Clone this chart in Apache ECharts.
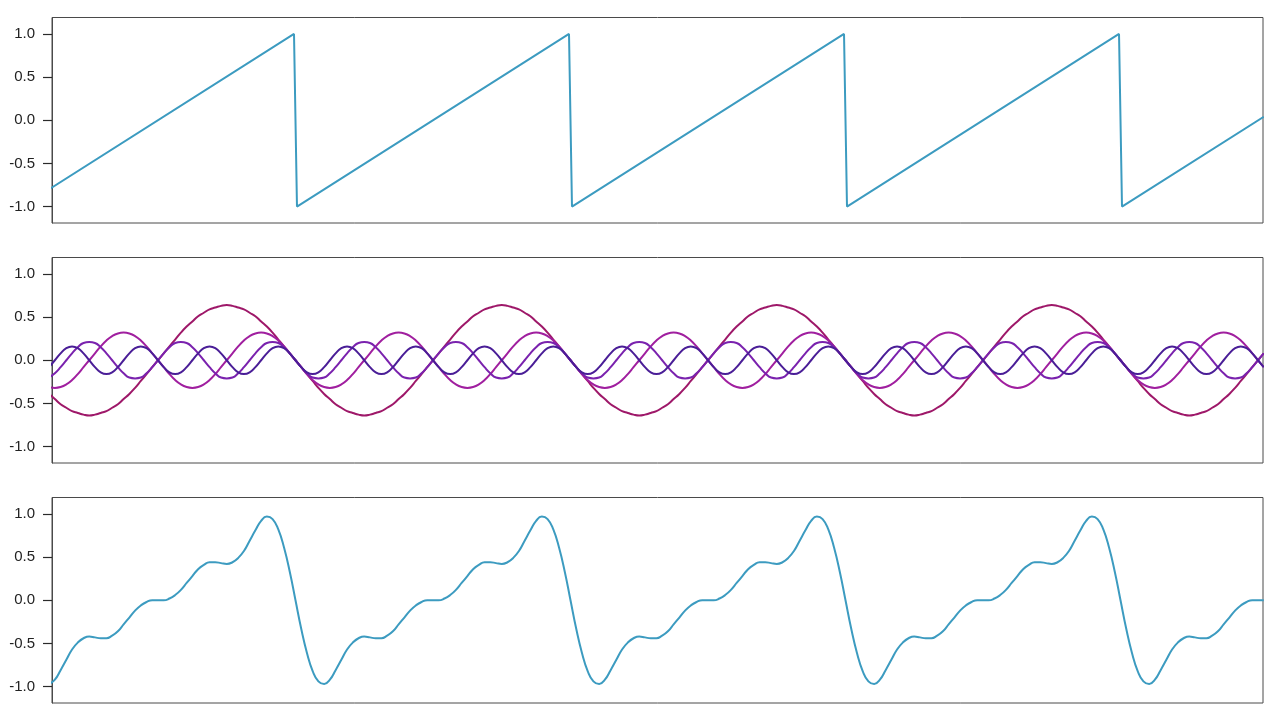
<!DOCTYPE html>
<html><head><meta charset="utf-8">
<script src="https://cdn.jsdelivr.net/npm/echarts@6/dist/echarts.min.js"></script>
<style>html,body{margin:0;padding:0;background:#fff}#c{width:1280px;height:720px}</style>
</head><body><div id="c"></div>
<script>
// x is measured in samples; one sample = 1/48 of the sawtooth period
const firstSample = -19;
const xMin = -18.5, xMax = 192.87;
const yMin = -1.19, yMax = 1.19;
const yTicks = [-1, -0.5, 0, 0.5, 1];

// panel 1: sawtooth corners
const sawX = [-19, 23.74, 24.26, 71.74, 72.26, 119.74, 120.26, 167.74, 168.26, 193];
const sawY = [-0.80, 1.0, -1.0, 1.0, -1.0, 1.0, -1.0, 1.0, -1.0, 0.04];

// panel 2: the four harmonics (read at every sample)
const harmonic1 = [
 -.39,-.45,-.51,-.55,-.59,-.61,-.63,-.64,-.63,-.61,-.59,-.55,-.51,-.45,-.39,-.32,-.24,-.16,-.08,
 0,.08,.16,.24,.32,.39,.45,.51,.55,.59,.61,.63,.64,.63,.61,.59,.55,.51,.45,.39,.32,.24,.16,.08,0,-.08,-.16,-.24,-.32,-.39,-.45,-.51,-.55,-.59,-.61,-.63,-.64,-.63,-.61,-.59,-.55,-.51,-.45,-.39,-.32,-.24,-.16,-.08,
 0,.08,.16,.24,.32,.39,.45,.51,.55,.59,.61,.63,.64,.63,.61,.59,.55,.51,.45,.39,.32,.24,.16,.08,0,-.08,-.16,-.24,-.32,-.39,-.45,-.51,-.55,-.59,-.61,-.63,-.64,-.63,-.61,-.59,-.55,-.51,-.45,-.39,-.32,-.24,-.16,-.08,
 0,.08,.16,.24,.32,.39,.45,.51,.55,.59,.61,.63,.64,.63,.61,.59,.55,.51,.45,.39,.32,.24,.16,.08,0,-.08,-.16,-.24,-.32,-.39,-.45,-.51,-.55,-.59,-.61,-.63,-.64,-.63,-.61,-.59,-.55,-.51,-.45,-.39,-.32,-.24,-.16,-.08,
 0,.08,.16,.24,.32,.39,.45,.51,.55,.59,.61,.63,.64,.63,.61,.59,.55,.51,.45,.39,.32,.24,.16,.08,0,-.08,-.16,-.24,-.32,-.39,-.45,-.51,-.55,-.59,-.61,-.63,-.64,-.63,-.61,-.59,-.55,-.51,-.45,-.39,-.32,-.24,-.16,-.08,
 0,.08
];
const harmonic2 = [
 -.31,-.32,-.31,-.28,-.23,-.16,-.08,0,.08,.16,.23,.28,.31,.32,.31,.28,.23,.16,.08,
 0,-.08,-.16,-.23,-.28,-.31,-.32,-.31,-.28,-.23,-.16,-.08,0,.08,.16,.23,.28,.31,.32,.31,.28,.23,.16,.08,0,-.08,-.16,-.23,-.28,-.31,-.32,-.31,-.28,-.23,-.16,-.08,0,.08,.16,.23,.28,.31,.32,.31,.28,.23,.16,.08,
 0,-.08,-.16,-.23,-.28,-.31,-.32,-.31,-.28,-.23,-.16,-.08,0,.08,.16,.23,.28,.31,.32,.31,.28,.23,.16,.08,0,-.08,-.16,-.23,-.28,-.31,-.32,-.31,-.28,-.23,-.16,-.08,0,.08,.16,.23,.28,.31,.32,.31,.28,.23,.16,.08,
 0,-.08,-.16,-.23,-.28,-.31,-.32,-.31,-.28,-.23,-.16,-.08,0,.08,.16,.23,.28,.31,.32,.31,.28,.23,.16,.08,0,-.08,-.16,-.23,-.28,-.31,-.32,-.31,-.28,-.23,-.16,-.08,0,.08,.16,.23,.28,.31,.32,.31,.28,.23,.16,.08,
 0,-.08,-.16,-.23,-.28,-.31,-.32,-.31,-.28,-.23,-.16,-.08,0,.08,.16,.23,.28,.31,.32,.31,.28,.23,.16,.08,0,-.08,-.16,-.23,-.28,-.31,-.32,-.31,-.28,-.23,-.16,-.08,0,.08,.16,.23,.28,.31,.32,.31,.28,.23,.16,.08,
 0,-.08
];
const harmonic3 = [
 -.20,-.15,-.08,0,.08,.15,.20,.21,.20,.15,.08,0,-.08,-.15,-.20,-.21,-.20,-.15,-.08,
 0,.08,.15,.20,.21,.20,.15,.08,0,-.08,-.15,-.20,-.21,-.20,-.15,-.08,0,.08,.15,.20,.21,.20,.15,.08,0,-.08,-.15,-.20,-.21,-.20,-.15,-.08,0,.08,.15,.20,.21,.20,.15,.08,0,-.08,-.15,-.20,-.21,-.20,-.15,-.08,
 0,.08,.15,.20,.21,.20,.15,.08,0,-.08,-.15,-.20,-.21,-.20,-.15,-.08,0,.08,.15,.20,.21,.20,.15,.08,0,-.08,-.15,-.20,-.21,-.20,-.15,-.08,0,.08,.15,.20,.21,.20,.15,.08,0,-.08,-.15,-.20,-.21,-.20,-.15,-.08,
 0,.08,.15,.20,.21,.20,.15,.08,0,-.08,-.15,-.20,-.21,-.20,-.15,-.08,0,.08,.15,.20,.21,.20,.15,.08,0,-.08,-.15,-.20,-.21,-.20,-.15,-.08,0,.08,.15,.20,.21,.20,.15,.08,0,-.08,-.15,-.20,-.21,-.20,-.15,-.08,
 0,.08,.15,.20,.21,.20,.15,.08,0,-.08,-.15,-.20,-.21,-.20,-.15,-.08,0,.08,.15,.20,.21,.20,.15,.08,0,-.08,-.15,-.20,-.21,-.20,-.15,-.08,0,.08,.15,.20,.21,.20,.15,.08,0,-.08,-.15,-.20,-.21,-.20,-.15,-.08,
 0,.08
];
const harmonic4 = [
 -.08,0,.08,.14,.16,.14,.08,0,-.08,-.14,-.16,-.14,-.08,0,.08,.14,.16,.14,.08,
 0,-.08,-.14,-.16,-.14,-.08,0,.08,.14,.16,.14,.08,0,-.08,-.14,-.16,-.14,-.08,0,.08,.14,.16,.14,.08,0,-.08,-.14,-.16,-.14,-.08,0,.08,.14,.16,.14,.08,0,-.08,-.14,-.16,-.14,-.08,0,.08,.14,.16,.14,.08,
 0,-.08,-.14,-.16,-.14,-.08,0,.08,.14,.16,.14,.08,0,-.08,-.14,-.16,-.14,-.08,0,.08,.14,.16,.14,.08,0,-.08,-.14,-.16,-.14,-.08,0,.08,.14,.16,.14,.08,0,-.08,-.14,-.16,-.14,-.08,0,.08,.14,.16,.14,.08,
 0,-.08,-.14,-.16,-.14,-.08,0,.08,.14,.16,.14,.08,0,-.08,-.14,-.16,-.14,-.08,0,.08,.14,.16,.14,.08,0,-.08,-.14,-.16,-.14,-.08,0,.08,.14,.16,.14,.08,0,-.08,-.14,-.16,-.14,-.08,0,.08,.14,.16,.14,.08,
 0,-.08,-.14,-.16,-.14,-.08,0,.08,.14,.16,.14,.08,0,-.08,-.14,-.16,-.14,-.08,0,.08,.14,.16,.14,.08,0,-.08,-.14,-.16,-.14,-.08,0,.08,.14,.16,.14,.08,0,-.08,-.14,-.16,-.14,-.08,0,.08,.14,.16,.14,.08,
 0,-.08
];

// panel 3: the summed curve (read at every sample)
const fourierSum = [
 -.97,-.92,-.81,-.69,-.57,-.49,-.44,-.42,-.43,-.44,-.44,-.41,-.36,-.28,-.20,-.12,-.06,-.02,0,
 0,0,.02,.06,.12,.20,.28,.36,.41,.44,.44,.43,.42,.44,.49,.57,.69,.81,.92,.97,.94,.82,.61,.33,0,-.33,-.61,-.82,-.94,-.97,-.92,-.81,-.69,-.57,-.49,-.44,-.42,-.43,-.44,-.44,-.41,-.36,-.28,-.20,-.12,-.06,-.02,0,
 0,0,.02,.06,.12,.20,.28,.36,.41,.44,.44,.43,.42,.44,.49,.57,.69,.81,.92,.97,.94,.82,.61,.33,0,-.33,-.61,-.82,-.94,-.97,-.92,-.81,-.69,-.57,-.49,-.44,-.42,-.43,-.44,-.44,-.41,-.36,-.28,-.20,-.12,-.06,-.02,0,
 0,0,.02,.06,.12,.20,.28,.36,.41,.44,.44,.43,.42,.44,.49,.57,.69,.81,.92,.97,.94,.82,.61,.33,0,-.33,-.61,-.82,-.94,-.97,-.92,-.81,-.69,-.57,-.49,-.44,-.42,-.43,-.44,-.44,-.41,-.36,-.28,-.20,-.12,-.06,-.02,0,
 0,0,.02,.06,.12,.20,.28,.36,.41,.44,.44,.43,.42,.44,.49,.57,.69,.81,.92,.97,.94,.82,.61,.33,0,-.33,-.61,-.82,-.94,-.97,-.92,-.81,-.69,-.57,-.49,-.44,-.42,-.43,-.44,-.44,-.41,-.36,-.28,-.20,-.12,-.06,-.02,0,
 0,0
];

const blue = '#3c9bc0';
const harmonicColors = ['#9e1869', '#a01f9f', '#7a22ae', '#4a1e97'];

const pts = arr => arr.map((v, i) => [firstSample + i, v]);

const grids = [17.5, 257.5, 497.5].map(top => ({
  left: 52, top: top, width: 1211, height: 205.5,
  show: true, borderColor: '#4a4a4a', borderWidth: 1, backgroundColor: 'transparent'
}));

const xAxes = [0, 1, 2].map(g => ({
  type: 'value', gridIndex: g, min: xMin, max: xMax, show: false
}));

const yAxes = [0, 1, 2].map(g => ({
  type: 'value', gridIndex: g, min: yMin, max: yMax,
  axisLine: { show: true, onZero: false, lineStyle: { color: '#4a4a4a', width: 1 } },
  splitLine: { show: false },
  axisTick: { show: true, length: 9, customValues: yTicks,
              lineStyle: { color: '#2a2a2a', width: 1.2 } },
  axisLabel: { customValues: yTicks, margin: 17,
               formatter: v => v.toFixed(1),
               fontFamily: 'Liberation Sans, Arial, sans-serif', fontSize: 15, color: '#222' }
}));

const lineBase = { type: 'line', showSymbol: false, symbol: 'none', clip: true, animation: false };

const series = [
  Object.assign({}, lineBase, {
    xAxisIndex: 0, yAxisIndex: 0,
    data: sawX.map((x, i) => [x, sawY[i]]),
    lineStyle: { color: blue, width: 2 }
  })
];
[harmonic1, harmonic2, harmonic3, harmonic4].forEach((h, k) => {
  series.push(Object.assign({}, lineBase, {
    xAxisIndex: 1, yAxisIndex: 1, smooth: 0.5,
    data: pts(h),
    lineStyle: { color: harmonicColors[k], width: 2 }
  }));
});
series.push(Object.assign({}, lineBase, {
  xAxisIndex: 2, yAxisIndex: 2, smooth: 0.5,
  data: pts(fourierSum),
  lineStyle: { color: blue, width: 2 }
}));

const chart = echarts.init(document.getElementById('c'), null, { renderer: 'canvas' });
chart.setOption({
  animation: false,
  backgroundColor: '#fff',
  grid: grids,
  xAxis: xAxes,
  yAxis: yAxes,
  series: series
});
</script></body></html>
